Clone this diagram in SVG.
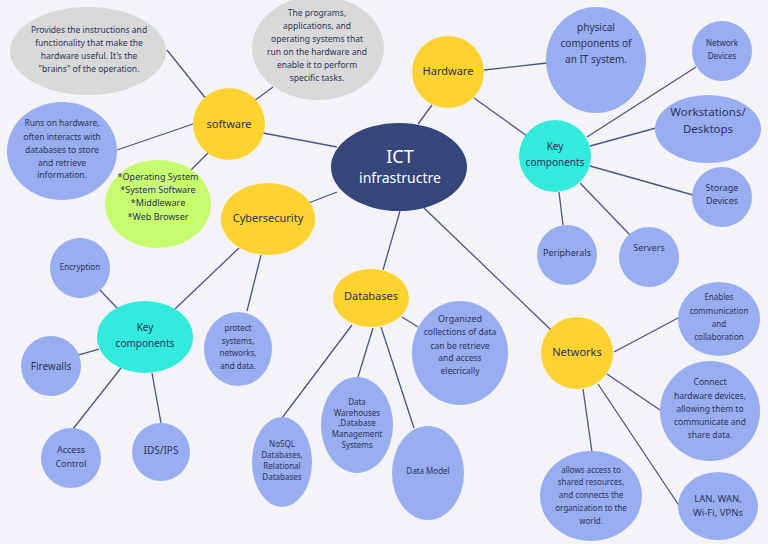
<svg xmlns="http://www.w3.org/2000/svg" width="768" height="544" viewBox="0 0 768 544">
<style>
.bg{fill:#f4f3f7}
.c line{stroke:#4a5584;stroke-width:1.3}
.y{fill:#fdd231}
.b{fill:#98aef0}
.g{fill:#d9d9d9}
.t{fill:#33ebdd}
.l{fill:#c7fb70}
.n{fill:#35467a}
text{font-family:"Noto Sans","Open Sans",sans-serif;fill:#2b3358;text-anchor:middle;dominant-baseline:middle}
.s8{font-size:8px}.s85{font-size:8.5px}.s9{font-size:9px}.s95{font-size:9.5px}.s10{font-size:10px}.s11{font-size:11px}.s12{font-size:11.5px}
</style>
<rect class="bg" width="768" height="544"/>
<g id="connectors" class="c">
<line x1="167" y1="50" x2="207" y2="100"/>
<line x1="273" y1="87" x2="254" y2="101"/>
<line x1="117" y1="150" x2="193" y2="124"/>
<line x1="191" y1="170" x2="209" y2="152"/>
<line x1="263" y1="133" x2="337" y2="147"/>
<line x1="306" y1="204" x2="337" y2="192"/>
<line x1="418" y1="124" x2="432" y2="105"/>
<line x1="484" y1="70" x2="547" y2="63"/>
<line x1="474" y1="98" x2="527" y2="136"/>
<line x1="587" y1="137" x2="696" y2="67"/>
<line x1="590" y1="146" x2="656" y2="128"/>
<line x1="590" y1="166" x2="693" y2="195"/>
<line x1="580" y1="183" x2="630" y2="235"/>
<line x1="559" y1="192" x2="563" y2="225"/>
<line x1="175" y1="309" x2="239" y2="248"/>
<line x1="247" y1="311" x2="261" y2="255"/>
<line x1="100" y1="290" x2="117" y2="308"/>
<line x1="78" y1="355" x2="99" y2="349"/>
<line x1="73" y1="429" x2="121" y2="368"/>
<line x1="161" y1="423" x2="152" y2="373"/>
<line x1="400" y1="211" x2="383" y2="270"/>
<line x1="402" y1="317" x2="418" y2="327"/>
<line x1="352" y1="325" x2="282" y2="418"/>
<line x1="373" y1="328" x2="358" y2="377"/>
<line x1="381" y1="327" x2="414" y2="428"/>
<line x1="424" y1="208" x2="551" y2="330"/>
<line x1="614" y1="352" x2="678" y2="318"/>
<line x1="607" y1="374" x2="660" y2="410"/>
<line x1="583" y1="389" x2="592" y2="452"/>
<line x1="598" y1="384" x2="680" y2="507"/>
</g>
<g id="central"><ellipse class="n" cx="399" cy="167" rx="68" ry="44"/><text x="400" y="158" style="font-size:18px;fill:#fff">ICT</text><text x="400" y="179" style="font-size:14px;fill:#fff">infrastructre</text></g>
<g id="software"><circle class="y" cx="229" cy="124" r="36"/><text class="s11" x="229" y="125">software</text></g>
<g id="sw-desc1"><ellipse class="g" cx="88" cy="51" rx="78" ry="44"/><text class="s85" x="89" y="31">Provides the instructions and</text><text class="s85" x="89" y="44">functionality that make the</text><text class="s85" x="89" y="57">hardware useful. It's the</text><text class="s85" x="89" y="70">"brains" of the operation.</text></g>
<g id="sw-desc2"><ellipse class="g" cx="318" cy="48" rx="66" ry="52"/><text class="s85" x="317" y="14">The programs,</text><text class="s85" x="317" y="27">applications, and</text><text class="s85" x="317" y="40">operating systems that</text><text class="s85" x="317" y="53">run on the hardware and</text><text class="s85" x="317" y="66">enable it to perform</text><text class="s85" x="317" y="79">specific tasks.</text></g>
<g id="sw-runs"><ellipse class="b" cx="62" cy="151" rx="55" ry="49"/><text class="s85" x="62" y="124">Runs on hardware,</text><text class="s85" x="62" y="138">often interacts with</text><text class="s85" x="62" y="151">databases to store</text><text class="s85" x="62" y="164">and retrieve</text><text class="s85" x="62" y="176">information.</text></g>
<g id="sw-list"><ellipse class="l" cx="158" cy="204" rx="53" ry="44"/><text class="s9" x="158" y="178">*Operating System</text><text class="s9" x="158" y="191">*System Software</text><text class="s9" x="158" y="204">*Middleware</text><text class="s9" x="158" y="218">*Web Browser</text></g>
<g id="cybersecurity"><ellipse class="y" cx="268" cy="219" rx="47" ry="36"/><text class="s11" x="268" y="219">Cybersecurity</text></g>
<g id="cyber-key"><ellipse class="t" cx="145" cy="337" rx="48" ry="36"/><text class="s10" x="145" y="328">Key</text><text class="s10" x="145" y="344">components</text></g>
<g id="encryption"><circle class="b" cx="80" cy="268" r="30"/><text class="s8" x="80" y="268">Encryption</text></g>
<g id="firewalls"><circle class="b" cx="51" cy="366" r="30"/><text class="s10" x="51" y="367">Firewalls</text></g>
<g id="access"><circle class="b" cx="71" cy="458" r="30"/><text class="s9" x="71" y="451">Access</text><text class="s9" x="71" y="465">Control</text></g>
<g id="idsips"><circle class="b" cx="161" cy="452" r="29"/><text class="s10" x="161" y="451">IDS/IPS</text></g>
<g id="protect"><ellipse class="b" cx="238" cy="349" rx="34" ry="37"/><text class="s8" x="238" y="329">protect</text><text class="s8" x="238" y="342">systems,</text><text class="s8" x="238" y="354">networks,</text><text class="s8" x="238" y="367">and data.</text></g>
<g id="hardware"><circle class="y" cx="448" cy="72" r="36"/><text class="s11" x="448" y="72">Hardware</text></g>
<g id="physical"><ellipse class="b" cx="596" cy="60" rx="50" ry="53"/><text class="s10" x="596" y="28">physical</text><text class="s10" x="596" y="44">components of</text><text class="s10" x="596" y="60">an IT system.</text></g>
<g id="hw-key"><circle class="t" cx="555" cy="156" r="36"/><text class="s10" x="555" y="147">Key</text><text class="s10" x="555" y="163">components</text></g>
<g id="netdev"><circle class="b" cx="722" cy="51" r="30"/><text class="s8" x="722" y="44">Network</text><text class="s8" x="722" y="57">Devices</text></g>
<g id="workstations"><ellipse class="b" cx="708" cy="129" rx="53" ry="34"/><text class="s12" x="708" y="113">Workstations/</text><text class="s12" x="708" y="130">Desktops</text></g>
<g id="storage"><circle class="b" cx="722" cy="197" r="30"/><text class="s9" x="722" y="189">Storage</text><text class="s9" x="722" y="202">Devices</text></g>
<g id="servers"><circle class="b" cx="649" cy="257" r="30"/><text class="s9" x="649" y="249">Servers</text></g>
<g id="peripherals"><circle class="b" cx="567" cy="255" r="30"/><text class="s9" x="567" y="254">Peripherals</text></g>
<g id="databases"><ellipse class="y" cx="371" cy="298" rx="38" ry="29"/><text class="s11" x="371" y="297">Databases</text></g>
<g id="organized"><ellipse class="b" cx="460" cy="353" rx="48" ry="52"/><text class="s9" x="460" y="320">Organized</text><text class="s85" x="460" y="333">collections of data</text><text class="s85" x="460" y="347">can be retrieve</text><text class="s85" x="460" y="359">and access</text><text class="s85" x="460" y="372">elecrically</text></g>
<g id="nosql"><ellipse class="b" cx="282" cy="462" rx="30" ry="45"/><text class="s8" x="282" y="445">NoSQL</text><text class="s8" x="282" y="456">Databases,</text><text class="s8" x="282" y="467">Relational</text><text class="s8" x="282" y="478">Databases</text></g>
<g id="warehouses"><ellipse class="b" cx="357" cy="425" rx="36" ry="48"/><text class="s8" x="357" y="403">Data</text><text class="s8" x="357" y="414">Warehouses</text><text class="s8" x="357" y="424">,Database</text><text class="s8" x="357" y="435">Management</text><text class="s8" x="357" y="446">Systems</text></g>
<g id="datamodel"><ellipse class="b" cx="428" cy="473" rx="36" ry="47"/><text class="s8" x="428" y="472">Data Model</text></g>
<g id="networks"><circle class="y" cx="577" cy="353" r="36"/><text class="s11" x="577" y="353">Networks</text></g>
<g id="enables"><ellipse class="b" cx="719" cy="319" rx="41" ry="37"/><text class="s8" x="719" y="298">Enables</text><text class="s8" x="719" y="312">communication</text><text class="s8" x="719" y="325">and</text><text class="s8" x="719" y="338">collaboration</text></g>
<g id="connect"><circle class="b" cx="710" cy="411" r="50"/><text class="s85" x="710" y="383">Connect</text><text class="s85" x="710" y="397">hardware devices,</text><text class="s85" x="710" y="410">allowing them to</text><text class="s85" x="710" y="423">communicate and</text><text class="s85" x="710" y="436">share data.</text></g>
<g id="allows"><ellipse class="b" cx="591" cy="496" rx="51" ry="45"/><text class="s8" x="591" y="471">allows access to</text><text class="s8" x="591" y="483">shared resources,</text><text class="s8" x="591" y="496">and connects the</text><text class="s8" x="591" y="509">organization to the</text><text class="s8" x="591" y="522">world.</text></g>
<g id="lan"><ellipse class="b" cx="718" cy="506" rx="40" ry="34"/><text class="s95" x="718" y="499">LAN, WAN,</text><text class="s95" x="718" y="513">Wi-Fi, VPNs</text></g>
</svg>
